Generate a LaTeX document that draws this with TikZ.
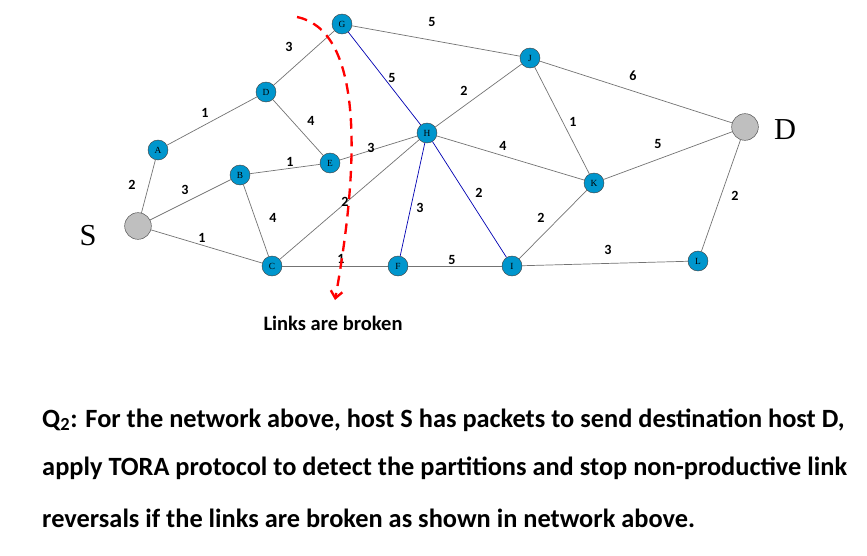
\documentclass[tikz,border=0pt]{standalone}
\usepackage{fontspec}
\setmainfont{Carlito}
\newfontfamily\serifnd{Liberation Serif}
\usetikzlibrary{arrows.meta}
\definecolor{ndfill}{RGB}{0,150,205}
\begin{document}
\begin{tikzpicture}[x=0.03cm,y=-0.03cm,
  nd/.style={circle,draw=black!75,fill=ndfill,minimum size=0.6cm,inner sep=0pt,font=\fontsize{8}{8}\selectfont\serifnd},
  host/.style={circle,draw=black!70,fill=black!25,minimum size=0.8cm,inner sep=0pt},
  ed/.style={draw=black!55,line width=0.6pt},
  bl/.style={draw=blue!70!black,line width=0.6pt},
  w/.style={font=\bfseries\fontsize{12}{12}\selectfont,inner sep=1pt}]
\useasboundingbox (0,0) rectangle (867,555);
\node[nd] (G) at (342,24) {G};
\node[nd] (J) at (530,58) {J};
\node[host] (Dst) at (745,127) {};
\node[nd] (H) at (427,133) {H};
\node[nd] (K) at (594,183) {K};
\node[nd] (A) at (158,150) {A};
\node[nd] (B) at (240,175) {B};
\node[nd] (E) at (330,163) {E};
\node[nd] (D) at (266,92) {D};
\node[host] (S) at (138,226) {};
\node[nd] (C) at (272,266) {C};
\node[nd] (F) at (398,266) {F};
\node[nd] (I) at (512,266) {I};
\node[nd] (L) at (698,261) {L};
\node[font=\fontsize{26}{26}\selectfont\serifnd] (Sl) at (88,236) {S};
\node[font=\fontsize{26}{26}\selectfont\serifnd] (Dl) at (785,130) {D};
\draw[ed] (G)--(J); \draw[bl] (G)--(H); \draw[ed] (D)--(G); \draw[ed] (A)--(D);
\draw[ed] (D)--(E); \draw[ed] (B)--(E); \draw[ed] (S)--(A); \draw[ed] (S)--(B);
\draw[ed] (S)--(C); \draw[ed] (B)--(C); \draw[ed] (C)--(H); \draw[ed] (E)--(H);
\draw[ed] (H)--(J); \draw[ed] (H)--(K); \draw[bl] (H)--(F); \draw[bl] (H)--(I);
\draw[ed] (J)--(K); \draw[ed] (J)--(Dst); \draw[ed] (K)--(Dst); \draw[ed] (K)--(I);
\draw[ed] (C)--(F); \draw[ed] (F)--(I); \draw[ed] (I)--(L); \draw[ed] (L)--(Dst);
\node[w] (w1) at (432,22) {5}; \node[w] (w2) at (392,78) {5}; \node[w] (w3) at (289,47) {3};
\node[w] (w4) at (205,113) {1}; \node[w] (w5) at (311,121) {4}; \node[w] (w6) at (290,162) {1};
\node[w] (w7) at (132,185) {2}; \node[w] (w8) at (185,190) {3}; \node[w] (w9) at (202,238) {1};
\node[w] (w10) at (273,218) {4}; \node[w] (w11) at (345,202) {2}; \node[w] (w12) at (371,148) {3};
\node[w] (w13) at (464,91) {2}; \node[w] (w14) at (503,146) {4}; \node[w] (w15) at (420,208) {3};
\node[w] (w16) at (479,193) {2}; \node[w] (w17) at (573,122) {1}; \node[w] (w18) at (633,76) {6};
\node[w] (w19) at (658,144) {5}; \node[w] (w20) at (541,218) {2}; \node[w] (w21) at (341,259) {1};
\node[w] (w22) at (452,260) {5}; \node[w] (w23) at (608,250) {3}; \node[w] (w24) at (735,196) {2};
\coordinate (r0) at (297,17); \coordinate (r1) at (335,300);
\draw[red,line width=2pt,dash pattern=on 9pt off 6pt,-{Straight Barb[length=6pt,width=10pt]}]
  (r0) .. controls (360,30) and (362,150) .. (r1);
\node[font=\bfseries\fontsize{17.5}{17.5}\selectfont] (lb) at (333,323) {Links are broken};
\begin{scope}[every node/.style={anchor=west,font=\bfseries\fontsize{22.5}{22.5}\selectfont,inner sep=0pt}]
\node (q1) at (42,420) {Q\textsubscript{2}: For the network above, host S has packets to send destination host D,};
\node (q2) at (42,468) {apply TORA protocol to detect the partitions and stop non-productive link};
\node (q3) at (42,518) {reversals if the links are broken as shown in network above.};
\end{scope}
\end{tikzpicture}
\end{document}
